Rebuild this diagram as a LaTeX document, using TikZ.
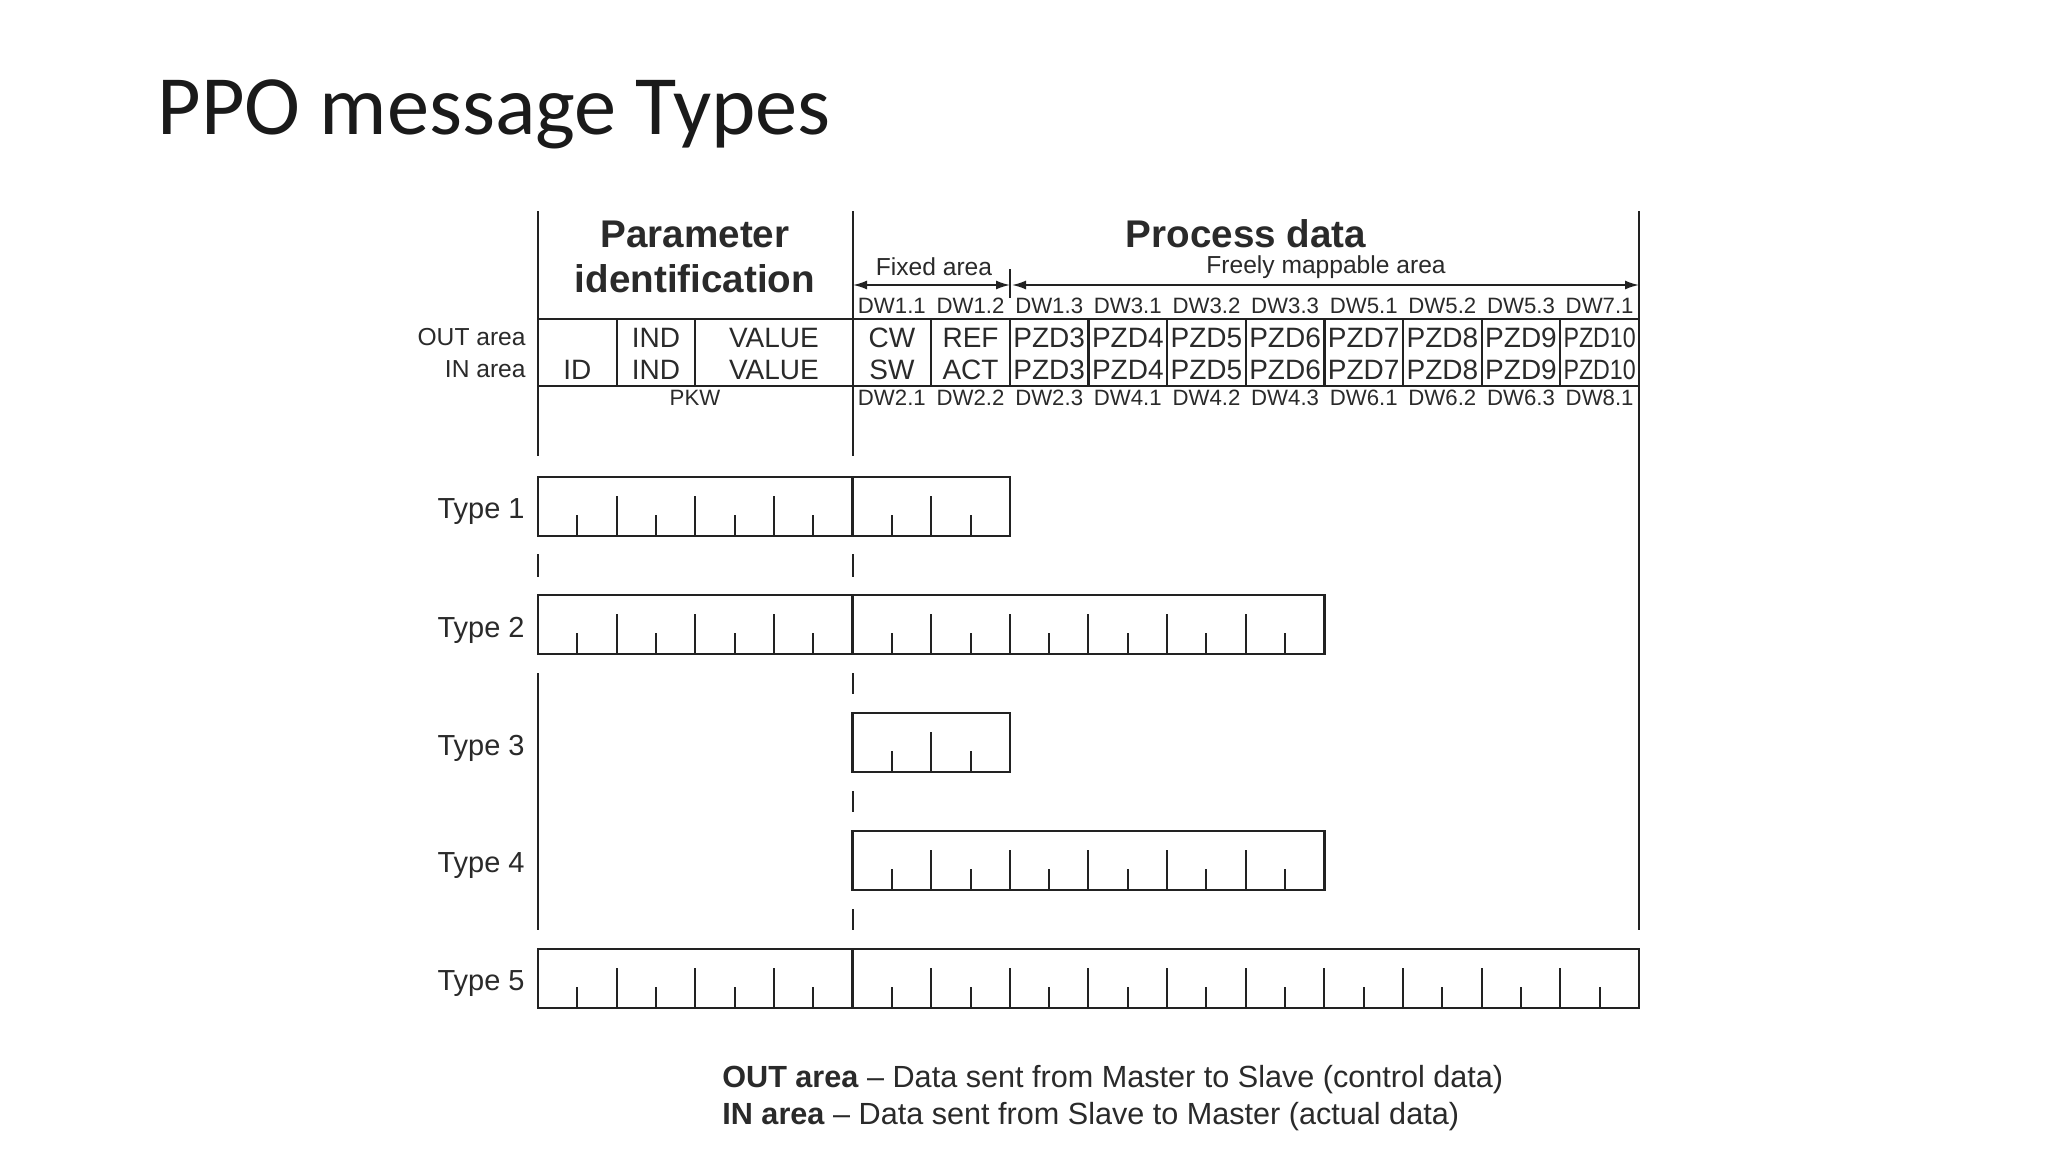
\documentclass[tikz,border=0pt]{standalone}
\usepackage{fontspec}
\usepackage{graphicx}
\setmainfont{Liberation Sans}
\newfontfamily\titlefont{Carlito}
\usetikzlibrary{arrows.meta}
\newcommand\myfs[1]{\fontsize{#1}{#1}\selectfont}
\definecolor{ink}{HTML}{222222}
\definecolor{txt}{HTML}{2A2A2A}
\definecolor{titlec}{HTML}{1A1A1A}
\tikzset{
  lbl/.style={inner sep=0pt, text=txt},
  dw/.style={lbl, font=\myfs{11.1}},
  cell/.style={lbl, font=\myfs{14}},
  head/.style={lbl, font=\bfseries\myfs{19.3}},
  area/.style={lbl, font=\myfs{12.3}},
  typelbl/.style={lbl, anchor=east, font=\myfs{14.5}},
  rule/.style={draw=ink, line width=1.1pt},
  boxline/.style={draw=ink, line width=1.3pt},
  tick/.style={draw=ink, line width=1pt},
  arr/.style={draw=ink, line width=0.9pt, {Latex[length=7pt,width=4.5pt]}-{Latex[length=7pt,width=4.5pt]}}
}
\newcommand\ppobox[3]{%
  \draw[boxline] ({538+#1*78.64},#3) rectangle ({538+#2*78.64},#3+59);
  \pgfmathtruncatemacro\lastc{#2-1}%
  \foreach \i in {#1,...,\lastc} {
    \pgfmathsetmacro\xa{538+\i*78.64}
    \pgfmathsetmacro\xm{538+(\i+0.5)*78.64}
    \draw[tick] (\xm,#3+59) -- ++(0,-21);
    \ifnum\i>#1
      \ifnum\i=4
        \draw[boxline] (\xa,#3+59) -- (\xa,#3);
      \else
        \draw[tick] (\xa,#3+59) -- ++(0,-40);
      \fi
    \fi
  }
}
\begin{document}
\begin{tikzpicture}[x=0.5pt,y=-0.5pt]
\fill[white] (0,0) rectangle (2048,1152);
\useasboundingbox (0,0) rectangle (2048,1152);

% title
\node[anchor=base west, inner sep=0pt, text=titlec, font=\titlefont\myfs{42.2}] (title) at (157,134) {PPO message Types};

% main vertical lines
\draw[rule] (538,211) -- (538,456);
\draw[rule] (853,211) -- (853,456);
\draw[rule] (1639,211) -- (1639,930);

% header horizontal lines
\draw[rule] (538,319) -- (1639,319);
\draw[rule] (538,386) -- (1639,386);
\foreach \i in {1,2,5,6,7,8,9,10,11,12,13}
  \draw[rule] ({538+\i*78.64},319) -- ({538+\i*78.64},386);

% headings
\node[head] (par1) at (695,234) {Parameter};
\node[head] (par2) at (695,279) {identification};
\node[head] (proc) at (1246,234) {Process data};
\node[area] (fixed) at (934,267) {Fixed area};
\node[area] (freely) at (1326,267) {Freely mappable area};

% arrows
\coordinate (fa1) at (853,285);
\coordinate (fa2) at (1010,285);
\coordinate (fb1) at (1012,285);
\coordinate (fb2) at (1639,285);
\draw[arr] (fa1) -- (fa2);
\draw[arr] (fb1) -- (fb2);
\draw[tick] (1010,269) -- (1010,298);

% side labels
\node[area, anchor=east] (outarea) at (526,337) {OUT area};
\node[area, anchor=east] (inarea) at (526,369) {IN area};

% PKW cells
\node[cell] (id) at ({538+0.5*78.64},370) {ID};
\node[cell] (ind1) at ({538+1.5*78.64},338) {IND};
\node[cell] (ind2) at ({538+1.5*78.64},370) {IND};
\node[cell] (val1) at ({538+3*78.64},338) {VALUE};
\node[cell] (val2) at ({538+3*78.64},370) {VALUE};
\node[dw] (pkw) at (695,398) {PKW};

% process data cells
\foreach \a/\b/\c/\d [count=\k from 4] in {DW1.1/CW/SW/DW2.1, DW1.2/REF/ACT/DW2.2, DW1.3/PZD3/PZD3/DW2.3, DW3.1/PZD4/PZD4/DW4.1, DW3.2/PZD5/PZD5/DW4.2, DW3.3/PZD6/PZD6/DW4.3, DW5.1/PZD7/PZD7/DW6.1, DW5.2/PZD8/PZD8/DW6.2, DW5.3/PZD9/PZD9/DW6.3} {
  \pgfmathsetmacro\xm{538+(\k+0.5)*78.64}
  \node[dw] (dwt\k) at (\xm,306) {\a};
  \node[cell] (out\k) at (\xm,338) {\b};
  \node[cell] (in\k) at (\xm,370) {\c};
  \node[dw] (dwb\k) at (\xm,398) {\d};
}
\node[dw] (dwt13) at ({538+13.5*78.64},306) {DW7.1};
\node[cell] (out13) at ({538+13.5*78.64},338) {\scalebox{0.83}[1]{PZD10}};
\node[cell] (in13) at ({538+13.5*78.64},370) {\scalebox{0.83}[1]{PZD10}};
\node[dw] (dwb13) at ({538+13.5*78.64},398) {DW8.1};

% type boxes
\ppobox{0}{6}{477}
\ppobox{0}{10}{595}
\ppobox{4}{6}{713}
\ppobox{4}{10}{831}
\ppobox{0}{14}{949}

\node[typelbl] (t1) at (525,512) {Type 1};
\node[typelbl] (t2) at (525,630) {Type 2};
\node[typelbl] (t3) at (525,748) {Type 3};
\node[typelbl] (t4) at (525,866) {Type 4};
\node[typelbl] (t5) at (525,984) {Type 5};

% dashes between rows
\draw[rule] (538,554) -- (538,577);
\draw[rule] (853,554) -- (853,577);
\draw[rule] (538,673) -- (538,930);
\draw[rule] (853,673) -- (853,694);
\draw[rule] (853,791) -- (853,812);
\draw[rule] (853,909) -- (853,930);

% legend
\node[lbl, anchor=west, font=\myfs{15.3}] (leg1) at (722,1080) {\textbf{OUT area} – Data sent from Master to Slave (control data)};
\node[lbl, anchor=west, font=\myfs{15.3}] (leg2) at (722,1117) {\textbf{IN area} – Data sent from Slave to Master (actual data)};
\end{tikzpicture}
\end{document}
